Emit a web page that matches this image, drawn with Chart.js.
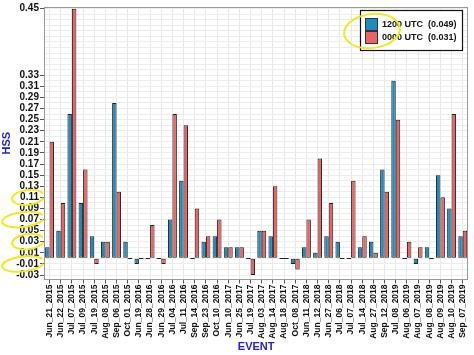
<!DOCTYPE html>
<html><head><meta charset="utf-8">
<script src="https://cdn.jsdelivr.net/npm/chart.js@4.4.0/dist/chart.umd.min.js"></script>
<style>html,body{margin:0;padding:0;background:#fff;overflow:hidden;}</style>
</head><body>
<canvas id="c" width="474" height="355"></canvas>
<script>
const events = ["Jun_21_2015","Jun_22_2015","Jul_07_2015","Jul_09_2015","Jul_19_2015","Aug_08_2015","Sep_06_2015","Oct_01_2015",
  "Jun_19_2016","Jun_28_2016","Jun_29_2016","Jul_04_2016","Jul_11_2016","Sep_14_2016","Sep_23_2016","Oct_10_2016",
  "Jun_10_2017","Jun_25_2017","Jul_19_2017","Aug_03_2017","Aug_14_2017","Aug_18_2017","Oct_08_2017",
  "Jun_11_2018","Jun_12_2018","Jun_27_2018","Jul_06_2018","Jul_07_2018","Jul_14_2018","Aug_27_2018","Sep_12_2018",
  "Jul_08_2019","Aug_06_2019","Aug_07_2019","Aug_08_2019","Aug_09_2019","Aug_10_2019","Sep_07_2019"];
const hss1200 = [0.02,0.05,0.26,0.10,0.04,0.03,0.28,0.03,
  -0.01,0,0,0.07,0.14,0,0.03,0.04,
  0.02,0.02,0,0.05,0.04,0,-0.01,
  0.02,0.01,0.04,0.03,0,0.02,0.03,0.16,
  0.32,0,-0.01,0.02,0.15,0.09,0.04];
const hss0000 = [0.21,0.10,0.45,0.16,-0.01,0.03,0.12,0,
  0,0.06,-0.01,0.26,0.24,0.09,0.04,0.07,
  0.02,0.02,-0.03,0.05,0.13,0,-0.02,
  0.07,0.18,0.10,0,0.14,0.04,0.01,0.12,
  0.25,0.03,0.02,0,0.11,0.26,0.05];
const seriesNames = ["1200 UTC", "0000 UTC"];
const seriesScores = ["(0.049)", "(0.031)"];
const yTickLabels = [0.45,0.33,0.31,0.29,0.27,0.25,0.23,0.21,0.19,0.17,0.15,0.13,0.11,0.09,0.07,0.05,0.03,0.01,-0.01,-0.03];
const circledTicks = [0.11,0.07,0.03,-0.01];

const BLUE = '#1a8dbd', RED = '#ec6363';
const labelSet = new Set(yTickLabels.map(v => Math.round(v*100)));

const extras = {
  id: 'extras',
  afterDatasetsDraw(chart) {
    const ctx = chart.ctx, ca = chart.chartArea, y = chart.scales.y;
    ctx.save();
    ctx.strokeStyle = '#222'; ctx.lineWidth = 1;
    chart.data.datasets.forEach((ds, di) => {
      const meta = chart.getDatasetMeta(di);
      meta.data.forEach((el, i) => {
        if (ds.data[i] === 0) {
          const p = el.getProps(['x','width'], true);
          const y0 = Math.round(y.getPixelForValue(0)) + 0.5;
          ctx.beginPath(); ctx.moveTo(p.x - p.width/2, y0); ctx.lineTo(p.x + p.width/2, y0); ctx.stroke();
        }
      });
    });
    ctx.strokeStyle = '#999';
    ctx.strokeRect(Math.round(ca.left)+0.5, Math.round(ca.top)+0.5, Math.round(ca.right-ca.left)-1, Math.round(ca.bottom-ca.top));
    // legend
    const lx = Math.round(ca.right) - 108, ly = Math.round(ca.top) + 3, lw = 102, lh = 40;
    ctx.fillStyle = '#fff'; ctx.fillRect(lx, ly, lw, lh);
    ctx.strokeStyle = '#111'; ctx.lineWidth = 1.2;
    ctx.strokeRect(lx+0.5, ly+0.5, lw, lh);
    ctx.lineWidth = 1;
    const cols = [BLUE, RED];
    ctx.font = 'bold 9px "Liberation Sans", Arial, sans-serif';
    ctx.textBaseline = 'middle'; ctx.textAlign = 'left';
    for (let k = 0; k < 2; k++) {
      const sy = ly + 8 + k*13;
      ctx.fillStyle = cols[k]; ctx.fillRect(lx+5.5, sy+0.5, 12, 12);
      ctx.strokeStyle = '#333'; ctx.strokeRect(lx+5.5, sy+0.5, 12, 12);
      ctx.fillStyle = '#111';
      ctx.fillText(seriesNames[k] + '  ' + seriesScores[k], lx + 22, sy + 7);
    }
    // yellow hand-drawn marks
    ctx.strokeStyle = '#f2ea1a'; ctx.lineWidth = 2;
    const ell = (cx, cy, rx, ry, a0, a1) => { ctx.beginPath(); ctx.ellipse(cx, cy, rx, ry, -0.12, a0, a1); ctx.stroke(); };
    circledTicks.forEach((v, i) => {
      const py = y.getPixelForValue(v);
      const rx = (i % 2 === 1) ? 21 : 16;
      ell(ca.left - 19 + (i%2===1 ? -2 : 3), py, rx, 7.5, 0.3, Math.PI*2 - 0.3);
    });
    ell(lx + 12, ly + 21, 28, 17, -1.2, Math.PI*1.75);
    ctx.restore();
  }
};

new Chart(document.getElementById('c'), {
  type: 'bar',
  data: {
    labels: events,
    datasets: [
      { label: seriesNames[0], data: hss1200, backgroundColor: BLUE, borderColor: '#222', borderWidth: 1, borderSkipped: false },
      { label: seriesNames[1], data: hss0000, backgroundColor: RED, borderColor: '#222', borderWidth: 1, borderSkipped: false }
    ]
  },
  options: {
    responsive: false, animation: false, devicePixelRatio: 1,
    layout: { padding: { top: 5, right: 3, left: 0, bottom: 0 } },
    datasets: { bar: { categoryPercentage: 0.8, barPercentage: 1.0 } },
    plugins: { legend: { display: false }, tooltip: { enabled: false } },
    scales: {
      x: {
        grid: { offset: false, color: '#e8e8e8', tickColor: '#555', tickLength: 4, drawOnChartArea: true },
        border: { display: false },
        ticks: { autoSkip: false, maxRotation: 90, minRotation: 90, padding: 1, color: '#111',
                 font: { family: '"Liberation Sans", Arial, sans-serif', size: 8.5, weight: 'bold' } },
        title: { display: true, text: 'EVENT', color: '#2222cc', padding: { top: 1, bottom: 1 },
                 font: { family: '"Liberation Sans", Arial, sans-serif', size: 11, weight: 'bold' } }
      },
      y: {
        min: -0.038, max: 0.453,
        afterBuildTicks(scale) {
          const t = [];
          for (let k = -3; k <= 45; k++) t.push({ value: k/100 });
          scale.ticks = t;
        },
        grid: { color: '#ececec', tickLength: 4,
                tickColor: c => labelSet.has(Math.round(c.tick.value*100)) ? '#555' : 'rgba(0,0,0,0)' },
        border: { display: false },
        ticks: { autoSkip: false, padding: 1, color: '#111',
                 callback: v => labelSet.has(Math.round(v*100)) ? v.toFixed(2) : '',
                 font: { family: '"Liberation Sans", Arial, sans-serif', size: 10, weight: 'bold' } },
        title: { display: true, text: 'HSS', color: '#2222cc', padding: { top: 0, bottom: 2 },
                 font: { family: '"Liberation Sans", Arial, sans-serif', size: 11, weight: 'bold' } }
      }
    }
  },
  plugins: [extras]
});
</script>
</body></html>
